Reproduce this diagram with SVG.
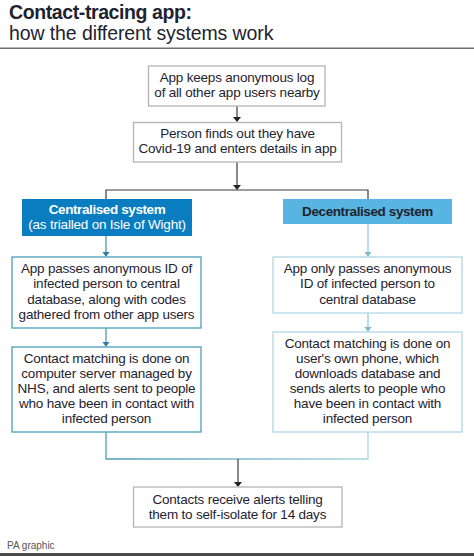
<svg xmlns="http://www.w3.org/2000/svg" width="474" height="556" viewBox="0 0 474 556">
<defs>
<style>
text{font-family:"Liberation Sans",Arial,sans-serif;fill:#1e2330}
.t{font-size:13.5px;text-anchor:middle;letter-spacing:-0.2px}
.b{font-weight:bold;letter-spacing:-0.4px}
.box{fill:#fff;stroke:#b4b4b4;stroke-width:1.3}
.cbox{fill:#fff;stroke:#4d9dbb;stroke-width:1.3}
.dbox{fill:#fff;stroke:#b0d8e6;stroke-width:1.3}
.k{stroke:#3a3a3a;stroke-width:1.2;fill:none}
.cl{stroke:#3b8fae;stroke-width:1.2;fill:none}
.dl{stroke:#8cc6dc;stroke-width:1.2;fill:none}
</style>
<linearGradient id="bg" x1="106" y1="0" x2="368" y2="0" gradientUnits="userSpaceOnUse"><stop offset="0" stop-color="#4d9db8"/><stop offset="1" stop-color="#a9d4e2"/></linearGradient>
</defs>
<rect width="474" height="556" fill="#fff"/>
<text x="9" y="19" style="font-size:19.5px;font-weight:bold;letter-spacing:-0.4px">Contact-tracing app:</text>
<text x="9" y="40" style="font-size:19.5px;letter-spacing:-0.1px">how the different systems work</text>
<rect x="0" y="47.5" width="474" height="1.5" fill="#6e6e6e"/>

<g id="connectors">
<line class="k" x1="237" y1="106" x2="237" y2="118"/>
<path d="M233,117 L241,117 L237,122 z" fill="#222"/>
<line class="k" x1="237" y1="162" x2="237" y2="186"/>
<path d="M233,185 L241,185 L237,190 z" fill="#222"/>
<polyline class="k" points="106,199 106,190 368,190 368,199"/>
<line class="cl" x1="106" y1="236" x2="106" y2="253"/>
<path d="M102.5,252 L109.5,252 L106,257 z" fill="#2f7fa3"/>
<line class="dl" x1="368" y1="224" x2="368" y2="253"/>
<path d="M364.5,252 L371.5,252 L368,257 z" fill="#7ab8d2"/>
<line class="cl" x1="106" y1="328" x2="106" y2="343"/>
<path d="M102.5,342 L109.5,342 L106,347 z" fill="#2f7fa3"/>
<line class="dl" x1="368" y1="313" x2="368" y2="328"/>
<path d="M364.5,327 L371.5,327 L368,332 z" fill="#7ab8d2"/>
<polyline points="106,432 106,459 368,459 368,432" fill="none" stroke="url(#bg)" stroke-width="1.3"/>
<line class="k" x1="238" y1="459" x2="238" y2="483"/>
<path d="M234,482 L242,482 L238,487 z" fill="#222"/>
</g>

<g id="n1">
<rect class="box" x="148.5" y="66" width="176.5" height="40"/>
<text class="t" x="237" y="82">App keeps anonymous log</text>
<text class="t" x="237" y="97">of all other app users nearby</text>
</g>
<g id="n2">
<rect class="box" x="133.5" y="122.5" width="208" height="39.5"/>
<text class="t" x="237.5" y="138">Person finds out they have</text>
<text class="t" x="237.5" y="153">Covid-19 and enters details in app</text>
</g>
<g id="central">
<rect x="22" y="199" width="170" height="37" fill="#0a7dc0"/>
<text class="t b" x="107" y="214" style="fill:#fff">Centralised system</text>
<text class="t" x="107" y="229" style="fill:#fff">(as trialled on Isle of Wight)</text>
</g>
<g id="decentral">
<rect x="283" y="199" width="169" height="25" fill="#58b5e1"/>
<text class="t b" x="367.5" y="216">Decentralised system</text>
</g>
<g id="c1">
<rect class="cbox" x="12" y="257" width="189" height="71"/>
<text class="t" x="106.5" y="273">App passes anonymous ID of</text>
<text class="t" x="106.5" y="288">infected person to central</text>
<text class="t" x="106.5" y="304">database, along with codes</text>
<text class="t" x="106.5" y="319">gathered from other app users</text>
</g>
<g id="c2">
<rect class="cbox" x="12" y="347" width="189" height="85"/>
<text class="t" x="106.5" y="363">Contact matching is done on</text>
<text class="t" x="106.5" y="378">computer server managed by</text>
<text class="t" x="106.5" y="393">NHS, and alerts sent to people</text>
<text class="t" x="106.5" y="408">who have been in contact with</text>
<text class="t" x="106.5" y="423">infected person</text>
</g>
<g id="d1">
<rect class="dbox" x="273" y="257" width="189" height="56"/>
<text class="t" x="367.5" y="273">App only passes anonymous</text>
<text class="t" x="367.5" y="288">ID of infected person to</text>
<text class="t" x="367.5" y="304">central database</text>
</g>
<g id="d2">
<rect class="dbox" x="273" y="332" width="189" height="100"/>
<text class="t" x="367.5" y="348">Contact matching is done on</text>
<text class="t" x="367.5" y="363">user's own phone, which</text>
<text class="t" x="367.5" y="378">downloads database and</text>
<text class="t" x="367.5" y="393">sends alerts to people who</text>
<text class="t" x="367.5" y="408">have been in contact with</text>
<text class="t" x="367.5" y="423">infected person</text>
</g>
<g id="n3">
<rect class="box" x="133.5" y="487" width="208.5" height="40"/>
<text class="t" x="237.5" y="504">Contacts receive alerts telling</text>
<text class="t" x="237.5" y="519">them to self-isolate for 14 days</text>
</g>
<text x="7" y="549" style="font-size:10px;fill:#555">PA graphic</text>
<rect x="0" y="553" width="474" height="3" fill="#4a4a4a"/>
</svg>
